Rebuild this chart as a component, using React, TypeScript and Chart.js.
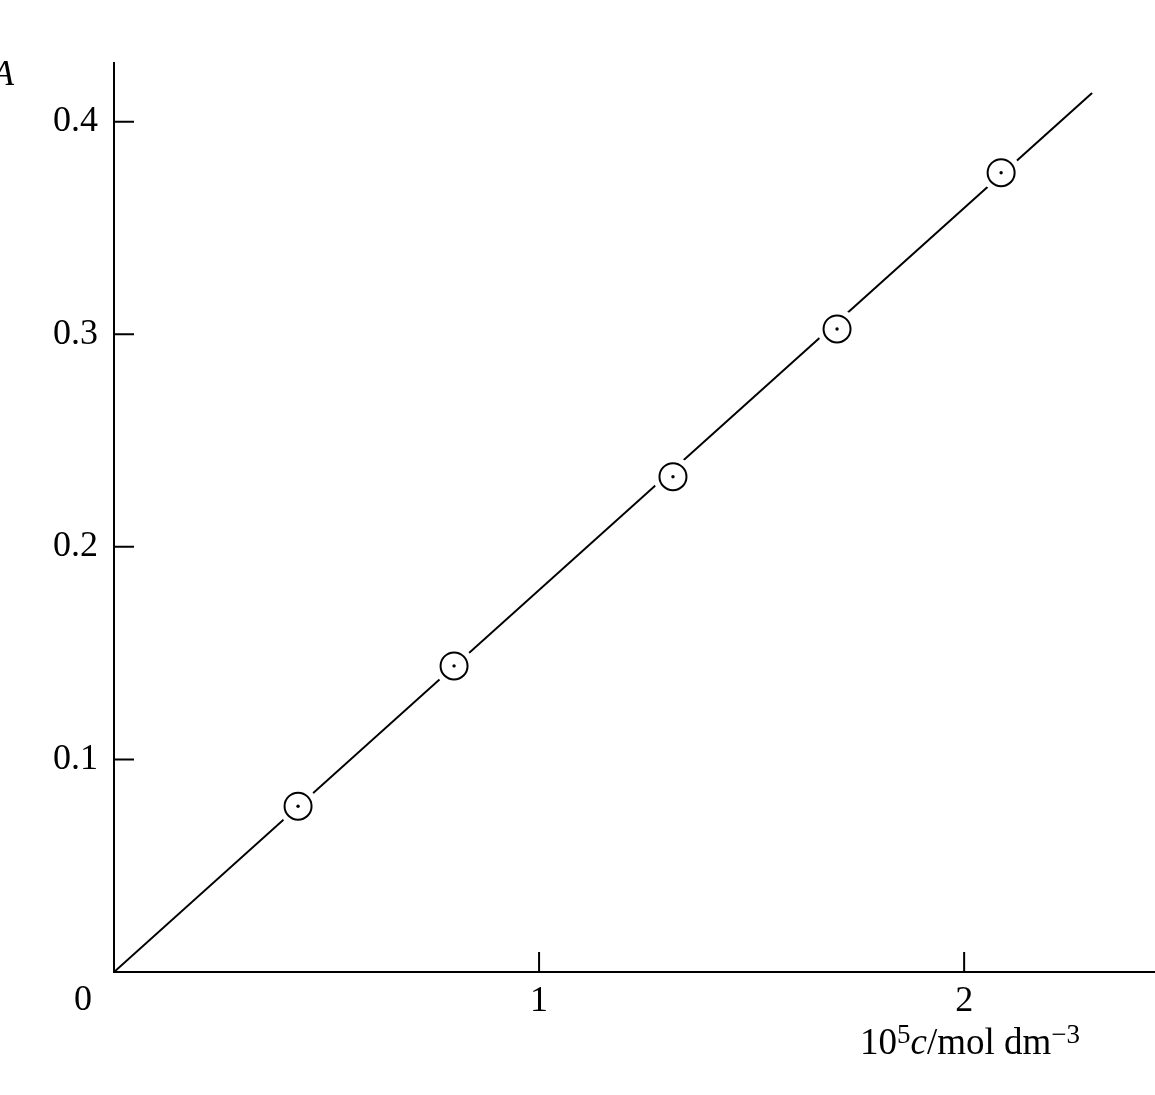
import React, { useEffect, useRef } from "react";
import { Chart, registerables } from "chart.js";

Chart.register(...registerables);

// Data
const concX: number[] = [0.433, 0.8, 1.315, 1.701, 2.087];
const absorbY: number[] = [0.078, 0.144, 0.233, 0.3025, 0.376];
const fitX: number[] = [0, 2.301];
const fitY: number[] = [0, 0.4135];
const xTickValues: number[] = [1, 2];
const yTickValues: number[] = [0.1, 0.2, 0.3, 0.4];
const yLabel = "A";
const xLabelParts = ["10", "5", "c", "/mol dm", "\u22123"];

const FONT = "'Liberation Serif', 'Times New Roman', serif";

const overlayPlugin = {
  id: "overlay",
  afterDraw(chart: any) {
    const ctx = chart.ctx as CanvasRenderingContext2D;
    const xs = chart.scales.x;
    const ys = chart.scales.y;
    const left = chart.chartArea.left;
    const bottom = chart.chartArea.bottom;
    ctx.save();
    ctx.strokeStyle = "#000";
    ctx.lineWidth = 2;
    // inward tick marks
    ctx.beginPath();
    xTickValues.forEach((v) => {
      const px = xs.getPixelForValue(v);
      ctx.moveTo(px, bottom);
      ctx.lineTo(px, bottom - 20);
    });
    yTickValues.forEach((v) => {
      const py = ys.getPixelForValue(v);
      ctx.moveTo(left, py);
      ctx.lineTo(left + 20, py);
    });
    ctx.stroke();

    ctx.fillStyle = "#000";
    // origin label
    ctx.font = `36px ${FONT}`;
    ctx.textAlign = "center";
    ctx.textBaseline = "alphabetic";
    ctx.fillText("0", left - 31, bottom + 38);

    // y axis label
    ctx.font = `italic 36px ${FONT}`;
    ctx.textAlign = "left";
    ctx.fillText(yLabel, -8, 85);

    // x axis title with superscripts
    let x = 860;
    const base = 1054;
    const big = `37px ${FONT}`;
    const small = `27px ${FONT}`;
    const ital = `italic 37px ${FONT}`;
    const drawPart = (t: string, f: string, dy: number) => {
      ctx.font = f;
      ctx.fillText(t, x, base + dy);
      x += ctx.measureText(t).width;
    };
    drawPart(xLabelParts[0], big, 0);
    drawPart(xLabelParts[1], small, -11);
    drawPart(xLabelParts[2], ital, 0);
    drawPart(xLabelParts[3], big, 0);
    drawPart(xLabelParts[4], small, -11);
    ctx.restore();
  },
};

export default function App() {
  const ref = useRef<HTMLCanvasElement>(null);
  useEffect(() => {
    if (!ref.current) return;
    const pts = concX.map((x, i) => ({ x, y: absorbY[i] }));
    const line = fitX.map((x, i) => ({ x, y: fitY[i] }));
    const chart = new Chart(ref.current, {
      type: "scatter",
      data: {
        datasets: [
          {
            data: line,
            showLine: true,
            borderColor: "#000",
            borderWidth: 2,
            pointRadius: 0,
            order: 4,
          } as any,
          {
            data: pts,
            pointRadius: 20,
            backgroundColor: "#fff",
            borderWidth: 0,
            borderColor: "#fff",
            order: 3,
          },
          {
            data: pts,
            pointRadius: 13.5,
            backgroundColor: "#fff",
            borderColor: "#000",
            borderWidth: 2,
            order: 2,
          },
          {
            data: pts,
            pointRadius: 1.7,
            backgroundColor: "#000",
            borderColor: "#000",
            borderWidth: 0,
            order: 1,
          },
        ],
      },
      options: {
        animation: false,
        responsive: false,
        devicePixelRatio: 1,
        layout: { autoPadding: false, padding: { top: 63, right: 0, left: 0, bottom: 0 } },
        plugins: {
          legend: { display: false },
          tooltip: { enabled: false },
        },
        scales: {
          x: {
            type: "linear",
            min: 0,
            max: 2.449,
            grid: { display: false, drawTicks: false },
            border: { display: true, color: "#000", width: 2 },
            afterFit: (s: any) => {
              s.height = 123;
              s.paddingLeft = 0;
              s.paddingRight = 0;
            },
            ticks: {
              stepSize: 1,
              includeBounds: false,
              padding: 8,
              color: "#000",
              font: { family: FONT, size: 36 },
              maxRotation: 0,
              callback: (v: any) => (xTickValues.includes(Number(v)) ? String(v) : ""),
            },
          },
          y: {
            type: "linear",
            min: 0,
            max: 0.4276,
            grid: { display: false, drawTicks: false },
            border: { display: true, color: "#000", width: 2 },
            afterFit: (s: any) => {
              s.width = 114;
              s.paddingTop = 0;
              s.paddingBottom = 0;
            },
            ticks: {
              stepSize: 0.1,
              includeBounds: false,
              padding: 16,
              color: "#000",
              font: { family: FONT, size: 36 },
              callback: (v: any) => {
                const n = Math.round(Number(v) * 10) / 10;
                return yTickValues.includes(n) ? n.toFixed(1) : "";
              },
            },
          },
        },
      },
      plugins: [overlayPlugin],
    });
    return () => chart.destroy();
  }, []);
  return (
    <div style={{ position: "absolute", left: 0, top: 0, width: 1155, height: 1095, background: "#fff" }}>
      <canvas ref={ref} width={1155} height={1095} style={{ width: 1155, height: 1095, display: "block" }} />
    </div>
  );
}
